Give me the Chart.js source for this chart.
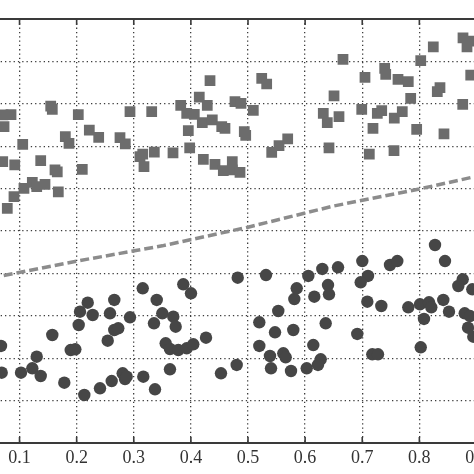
<!DOCTYPE html>
<html>
<head>
<meta charset="utf-8">
<script src="https://cdn.jsdelivr.net/npm/chart.js@4/dist/chart.umd.min.js"></script>
<style>
html,body{margin:0;padding:0;background:#fff;overflow:hidden;width:474px;height:474px;}
#wrap{position:absolute;left:-60px;top:0;width:620px;height:474px;}
</style>
</head>
<body>
<div id="wrap"><canvas id="c"></canvas></div>
<script>
// Upper group (squares)
const squaresX = [0.0711,0.0851,0.0729,0.1546,0.1574,0.2029,0.2934,0.3314,0.2222,0.2386,0.1802,0.1866,0.2759,0.2852,0.1056,0.0706,0.0916,0.1371,0.1621,0.1661,0.2099,0.3109,0.3157,0.3179,0.3360,0.1078,0.1224,0.1301,0.1446,0.1679,0.0903,0.0786,
0.4335,0.5240,0.5327,0.4147,0.4287,0.3822,0.3927,0.4060,0.4200,0.4375,0.4540,0.4597,0.4772,0.4877,0.5093,0.3955,0.4935,0.4960,0.3687,0.3979,0.4218,0.4422,0.4568,0.4725,0.4725,0.4860,0.5415,0.5543,0.5695,
0.6663,0.8244,0.8764,0.8834,0.8922,0.8024,0.8899,0.7048,0.7393,0.7411,0.7626,0.7806,0.6506,0.8361,0.8314,0.7848,0.8759,0.6318,0.6388,0.6593,0.6991,0.7264,0.7341,0.7561,0.7701,0.7188,0.7953,0.8431,0.6418,0.7124,0.7556];
const squaresY = [7.736,7.743,7.460,7.948,7.870,7.743,7.814,7.814,7.382,7.210,7.224,7.068,7.200,7.052,7.045,6.634,6.557,6.658,6.439,6.392,6.455,6.752,6.816,6.517,6.863,6.007,6.149,6.045,6.101,5.920,5.809,5.535,
8.545,8.601,8.467,8.160,7.965,7.965,7.776,7.752,7.554,7.618,7.460,7.422,8.050,8.012,7.847,7.366,7.342,7.257,6.840,6.958,6.691,6.573,6.422,6.634,6.439,6.384,6.856,7.012,7.170,
9.050,9.340,9.552,9.340,9.481,9.017,8.679,8.625,8.837,8.696,8.578,8.521,8.184,8.380,8.285,8.130,7.988,7.776,7.554,7.696,7.870,7.776,7.837,7.665,7.814,7.422,7.399,7.288,6.958,6.816,6.894];

// Lower group (circles)
const circlesX = [0.0676,0.0688,0.1026,0.1224,0.1301,0.1371,0.1574,0.1784,0.1896,0.1977,0.2036,0.2059,0.2194,0.2281,0.2134,0.2409,0.2614,0.2544,0.2659,0.2729,0.2584,0.2659,0.2806,0.2847,0.2876,0.2934,0.3157,0.3167,0.3354,0.3402,0.3372,
0.3867,0.4002,0.3500,0.3692,0.3734,0.3559,0.3634,0.3780,0.3927,0.4042,0.4265,0.3634,0.4527,0.4802,0.4820,0.5315,0.6056,0.5853,0.5811,0.6161,0.5530,0.5198,0.5473,0.5793,0.5198,0.5385,0.5618,0.5660,0.5403,0.5753,0.6028,0.6143,
0.6301,0.6576,0.7001,0.7101,0.6973,0.7486,0.7614,0.8274,0.8449,0.6401,0.6418,0.7089,0.7334,0.7806,0.8011,0.8169,0.8209,0.8419,0.8519,0.8081,0.8759,0.8682,0.8927,0.8794,0.8887,0.8852,0.8944,0.6360,0.6913,0.6273,0.6225,0.7176,0.7276,0.8024];
const circlesY = [2.288,1.658,1.658,1.762,2.035,1.580,2.547,1.422,2.193,2.210,2.783,3.097,3.309,3.019,1.132,1.290,1.462,2.413,2.665,2.705,3.059,3.373,1.644,1.509,1.564,2.965,3.649,1.564,2.823,3.373,1.267,
3.743,3.531,3.059,2.979,2.743,2.351,2.217,2.193,2.233,2.328,2.483,1.738,1.644,1.840,3.899,3.962,3.939,3.649,3.396,3.450,3.113,2.847,2.611,2.665,2.288,2.052,2.116,2.021,1.762,1.698,1.762,2.311,
4.104,4.144,4.292,3.939,3.790,4.198,4.292,4.670,4.292,3.726,3.507,3.333,3.231,3.200,3.271,3.318,3.200,3.373,3.097,2.925,3.861,3.703,3.625,3.059,2.995,2.719,2.507,2.823,2.571,1.974,1.840,2.092,2.092,2.257];

// Dashed boundary line
const lineX = [0.05,0.2,0.35,0.5,0.65,0.8,0.95];
const lineY = [3.89,4.29,4.65,5.09,5.59,5.99,6.44];

const xMin = 0, xMax = 1, xStep = 0.1;
const yMin = 0, yMax = 10, yStep = 1;

const toPts = (xs, ys) => xs.map((x, i) => ({x: x, y: ys[i]}));

const frame = {
  id: 'frame',
  afterDraw(chart) {
    const ctx = chart.ctx, a = chart.chartArea, xs = chart.scales.x;
    ctx.save();
    ctx.strokeStyle = '#3a3a3a';
    ctx.lineWidth = 2;
    ctx.beginPath();
    ctx.moveTo(a.left, a.top); ctx.lineTo(a.right, a.top);
    ctx.stroke();
    ctx.lineWidth = 1.6;
    ctx.beginPath();
    xs.ticks.forEach(t => {
      const px = xs.getPixelForValue(t.value);
      ctx.moveTo(px, a.bottom); ctx.lineTo(px, a.bottom - 6);
      ctx.moveTo(px, a.top); ctx.lineTo(px, a.top + 6);
    });
    ctx.stroke();
    ctx.restore();
  }
};

new Chart(document.getElementById('c'), {
  data: {
    datasets: [
      {
        type: 'scatter',
        data: toPts(circlesX, circlesY),
        pointStyle: 'circle',
        pointRadius: 6.2,
        backgroundColor: '#464646',
        borderColor: '#464646',
        borderWidth: 0
      },
      {
        type: 'scatter',
        data: toPts(squaresX, squaresY),
        pointStyle: 'rect',
        pointRadius: 7.6,
        backgroundColor: '#6c6c6c',
        borderColor: '#6c6c6c',
        borderWidth: 0
      },
      {
        type: 'line',
        data: toPts(lineX, lineY),
        borderColor: '#8c8c8c',
        borderWidth: 3.5,
        borderDash: [9, 4],
        pointRadius: 0,
        fill: false,
        tension: 0
      }
    ]
  },
  options: {
    responsive: true,
    maintainAspectRatio: false,
    animation: false,
    events: [],
    layout: { padding: { left: 22.4, right: 26.4, top: 19, bottom: 0 } },
    plugins: { legend: { display: false }, tooltip: { enabled: false } },
    scales: {
      x: {
        type: 'linear',
        min: xMin, max: xMax,
        afterFit(s) { s.height = 31; },
        ticks: {
          stepSize: xStep,
          padding: 4,
          color: '#333',
          font: { family: 'Liberation Serif', size: 18 },
          callback: v => Number(v).toFixed(1)
        },
        grid: { color: '#3c3c3c', lineWidth: 1.3, drawTicks: false },
        border: { display: true, color: '#3a3a3a', width: 2, dash: [1.3, 3] }
      },
      y: {
        type: 'linear',
        min: yMin, max: yMax,
        afterFit(s) { s.width = 0; },
        ticks: { stepSize: yStep, display: false },
        grid: { color: '#3c3c3c', lineWidth: 1.3, drawTicks: false },
        border: { display: false, dash: [1.3, 3] }
      }
    }
  },
  plugins: [frame]
});
</script>
</body>
</html>
